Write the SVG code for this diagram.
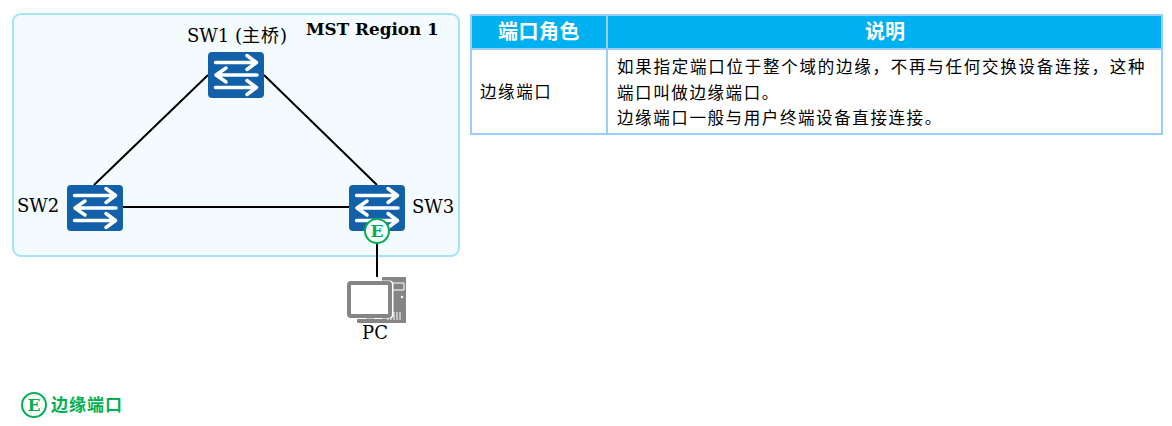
<svg xmlns="http://www.w3.org/2000/svg" width="1172" height="426" viewBox="0 0 1172 426">
<style>
.lat{font-family:"DejaVu Serif","Noto Sans CJK SC",serif;font-size:18px;fill:#000}
.cjk{font-family:"Noto Sans CJK SC","Noto Sans",sans-serif;font-size:16.500px;letter-spacing:1.600px;fill:#000}
.hd{font-family:"Noto Sans CJK SC","Noto Sans",sans-serif;font-size:20px;font-weight:700;fill:#fff;text-anchor:middle}
.cell{fill:none;stroke:#99ccff;stroke-width:2}
.link{stroke:#000;stroke-width:2;fill:none}
.e{fill:#fff;stroke:#00b050;stroke-width:2}
.et{font-family:"DejaVu Serif",serif;font-weight:700;font-size:17px;fill:#00b050;text-anchor:middle}
</style>
<defs>
<g id="sw">
<rect width="56" height="46" rx="4" fill="#1260a8"/>
<g fill="none" stroke="#fff" stroke-width="3.500" stroke-linecap="round" stroke-linejoin="round">
<path d="M7.500 10.500H48M39 3.500L48.500 10.500L39 17.500"/>
<path d="M49 23H9M18 16L8 23L18 30"/>
<path d="M7.500 35.500H48M39 28.500L48.500 35.500L39 42.500"/>
</g>
</g>
</defs>
<g id="region">
<rect x="13" y="14" width="446" height="242" rx="8" fill="#f3fbff" stroke="#a5e3f8" stroke-width="2"/>
<text class="lat" x="306" y="35" style="font-weight:700;font-size:16.800px">MST Region 1</text>
</g>
<g id="connectors">
<path class="link" d="M208 75L94 185M264 75L377 185M123 207H349M377 230V277"/>
</g>
<g id="sw1"><use href="#sw" x="208" y="52"/><text class="lat" x="187" y="42">SW1 (<tspan style="letter-spacing:1px">主桥</tspan>)</text></g>
<g id="sw2"><use href="#sw" x="67" y="185"/><text class="lat" x="17" y="212">SW2</text></g>
<g id="sw3"><use href="#sw" x="349" y="185"/><text class="lat" x="412" y="213">SW3</text></g>
<g id="edge-port"><circle class="e" cx="377" cy="231" r="12"/><text class="et" x="377" y="237">E</text></g>
<g id="pc">
<rect x="382" y="277" width="24" height="46" rx="1" fill="#858585"/>
<path d="M392 283H404V290H392ZM392 290V300" fill="none" stroke="#fff" stroke-width="1"/>
<circle cx="402" cy="297" r="1.200" fill="#fff"/>
<path d="M388 320V312M391 320V312M394 320V312M397 320V312M400 320V312" stroke="#fff" stroke-width="1"/>
<rect x="357" y="319" width="26" height="4" rx="1" fill="#858585"/>
<rect x="366" y="315" width="8" height="5" fill="#858585"/>
<rect x="347" y="281" width="46" height="37" rx="3" fill="#fff" stroke="#fff" stroke-width="1"/>
<rect x="349" y="283" width="41" height="33" rx="2" fill="#fff" stroke="#858585" stroke-width="4"/>
<text class="lat" x="375" y="339" text-anchor="middle">PC</text>
</g>
<g id="table">
<rect x="471" y="15" width="136" height="34" fill="#00b0f0"/>
<rect x="607" y="15" width="555" height="34" fill="#00b0f0"/>
<rect class="cell" x="471" y="15" width="136" height="34"/>
<rect class="cell" x="607" y="15" width="555" height="34"/>
<rect class="cell" x="471" y="49" width="136" height="85"/>
<rect class="cell" x="607" y="49" width="555" height="85"/>
<text class="hd" x="539" y="39" style="letter-spacing:.5px">端口角色</text>
<text class="hd" x="885" y="39">说明</text>
<text class="cjk" x="480" y="98">边缘端口</text>
<text class="cjk" x="617" y="73" style="letter-spacing:1.750px">如果指定端口位于整个域的边缘，不再与任何交换设备连接，这种</text>
<text class="cjk" x="617" y="99">端口叫做边缘端口。</text>
<text class="cjk" x="617" y="124">边缘端口一般与用户终端设备直接连接。</text>
</g>
<g id="legend">
<circle class="e" cx="34" cy="405" r="12"/>
<text class="et" x="34" y="411">E</text>
<text x="51" y="411" style="font-family:'Noto Sans CJK SC',sans-serif;font-size:17px;letter-spacing:1px;font-weight:700;fill:#00b050">边缘端口</text>
</g>
</svg>
